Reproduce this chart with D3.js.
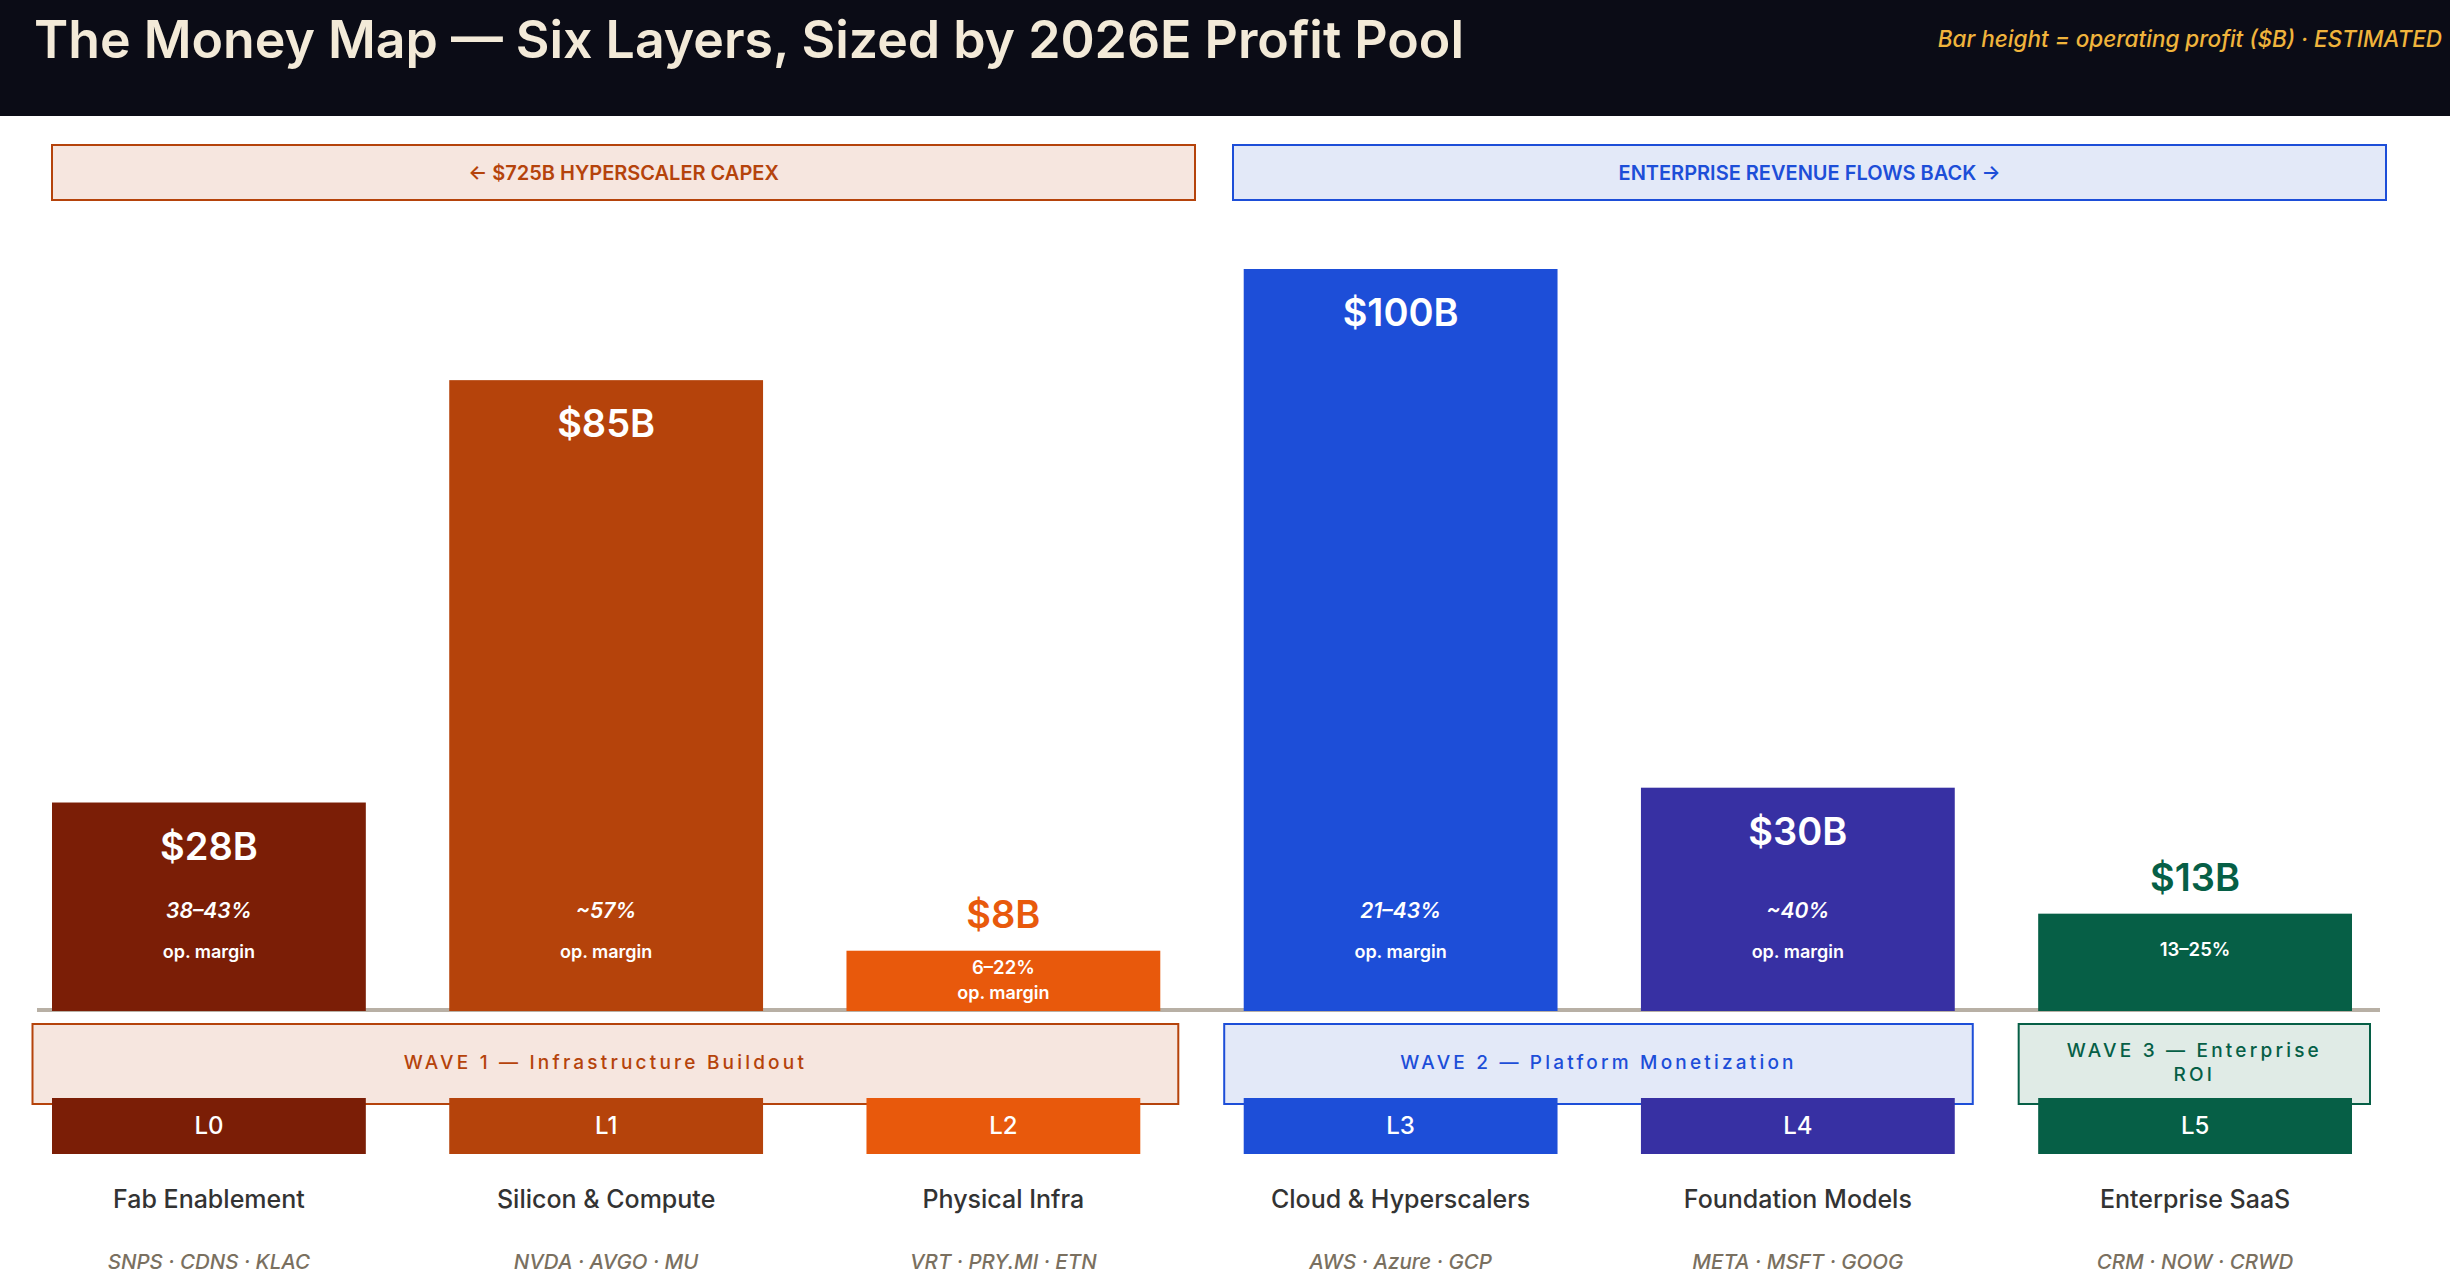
<!DOCTYPE html>
<html>
<head>
<meta charset="utf-8">
<script src="https://cdn.jsdelivr.net/npm/d3@7"></script>
<style>
  html, body { margin: 0; padding: 0; background: #ffffff; }
  svg { display: block; font-family: Inter, "Noto Sans", sans-serif; }
</style>
</head>
<body>
<svg id="chart" width="2450" height="1280"></svg>
<script>
// ---- data ----
const categories = ["L0", "L1", "L2", "L3", "L4", "L5"];
const layerNames = ["Fab Enablement", "Silicon & Compute", "Physical Infra", "Cloud & Hyperscalers", "Foundation Models", "Enterprise SaaS"];
const tickers = ["SNPS · CDNS · KLAC", "NVDA · AVGO · MU", "VRT · PRY.MI · ETN", "AWS · Azure · GCP", "META · MSFT · GOOG", "CRM · NOW · CRWD"];
const profitB = [28, 85, 8, 100, 30, 13];
const valueLabels = ["$28B", "$85B", "$8B", "$100B", "$30B", "$13B"];
const margins = ["38–43%", "~57%", "6–22%", "21–43%", "~40%", "13–25%"];
const marginNotes = ["op. margin", "op. margin", "op. margin", "op. margin", "op. margin", ""];
const waves = [
  { label: "WAVE 1 — Infrastructure Buildout", first: "L0", last: "L2" },
  { label: "WAVE 2 — Platform Monetization", first: "L3", last: "L4" },
  { label: "WAVE 3 — Enterprise ROI", first: "L5", last: "L5" }
];
const flowLabels = ["← $725B HYPERSCALER CAPEX", "ENTERPRISE REVENUE FLOWS BACK →"];
const titleText = "The Money Map — Six Layers, Sized by 2026E Profit Pool";
const subtitleText = "Bar height = operating profit ($B) · ESTIMATED";

// ---- styles ----
const layerColors = ["#7b1e06", "#b5430b", "#e8590c", "#1d4ed8", "#3730a3", "#065f46"];
const waveStroke = ["#b5430b", "#1d4ed8", "#065f46"];
const waveFill = ["#f6e6df", "#e3e9f8", "#e0ebe6"];

const svg = d3.select("#chart");
const W = 2450;

// header
svg.append("rect").attr("x", 0).attr("y", 0).attr("width", W).attr("height", 116).attr("fill", "#0b0c16");
svg.append("text").attr("x", 34).attr("y", 58)
  .attr("fill", "#f3ead8").attr("font-size", 52).attr("font-weight", 600)
  .attr("textLength", 1430).attr("lengthAdjust", "spacingAndGlyphs")
  .text(titleText);
svg.append("text").attr("x", 2442).attr("y", 47).attr("text-anchor", "end")
  .attr("fill", "#f0b43c").attr("font-size", 22.5).attr("font-style", "italic").attr("font-weight", 500)
  .text(subtitleText);

// scales
const x = d3.scaleBand().domain(categories).range([52, 2352]).paddingInner(0.21).paddingOuter(0);
const bw = x.bandwidth();
const y = d3.scaleLinear().domain([0, 100]).range([1010, 269]);
const base = y(0);

// flow boxes
const mid = (x("L2") + bw + x("L3")) / 2;
const flowBoxes = [
  { x0: x("L0"), x1: mid - 7 },
  { x0: mid + 31, x1: x("L5") + bw + 34 }
];
flowBoxes.forEach((b, k) => {
  svg.append("rect").attr("x", b.x0).attr("y", 145).attr("width", b.x1 - b.x0).attr("height", 55)
    .attr("fill", waveFill[k]).attr("stroke", waveStroke[k]).attr("stroke-width", 2);
  svg.append("text").attr("x", (b.x0 + b.x1) / 2).attr("y", 173).attr("dy", "0.35em")
    .attr("text-anchor", "middle").attr("fill", waveStroke[k])
    .attr("font-size", 20).attr("font-weight", 600)
    .text(flowLabels[k]);
});

// bars
const data = categories.map((c, i) => ({
  c, i, v: profitB[i], label: valueLabels[i], margin: margins[i], note: marginNotes[i],
  name: layerNames[i], tick: tickers[i], color: layerColors[i]
}));

// baseline
svg.append("line").attr("x1", 37).attr("x2", 2380).attr("y1", base).attr("y2", base)
  .attr("stroke", "#b8b0a5").attr("stroke-width", 4);

svg.selectAll("rect.bar").data(data).join("rect").attr("class", "bar")
  .attr("x", d => x(d.c)).attr("y", d => y(d.v))
  .attr("width", bw).attr("height", d => base - y(d.v) + 1)
  .attr("fill", d => d.color);

// labels
data.forEach(d => {
  const cx = x(d.c) + bw / 2;
  const top = y(d.v);
  const h = base - top;
  const tall = h > 150;
  if (tall) {
    svg.append("text").attr("x", cx).attr("y", top + 44).attr("dy", "0.35em")
      .attr("text-anchor", "middle").attr("fill", "#ffffff")
      .attr("font-size", 38).attr("font-weight", 600).text(d.label);
    svg.append("text").attr("x", cx).attr("y", base - 99).attr("dy", "0.35em")
      .attr("text-anchor", "middle").attr("fill", "#ffffff")
      .attr("font-size", 21).attr("font-weight", 600).attr("font-style", "italic").text(d.margin);
    svg.append("text").attr("x", cx).attr("y", base - 58).attr("dy", "0.35em")
      .attr("text-anchor", "middle").attr("fill", "#ffffff")
      .attr("font-size", 18).attr("font-weight", 600).text(d.note);
  } else {
    svg.append("text").attr("x", cx).attr("y", top - 36).attr("dy", "0.35em")
      .attr("text-anchor", "middle").attr("fill", d.color)
      .attr("font-size", 38).attr("font-weight", 600).text(d.label);
    const c = top + h / 2;
    svg.append("text").attr("x", cx).attr("y", c - 12.5).attr("dy", "0.35em")
      .attr("text-anchor", "middle").attr("fill", "#ffffff")
      .attr("font-size", 18.5).attr("font-weight", 600).text(d.margin);
    if (d.note) {
      svg.append("text").attr("x", cx).attr("y", c + 12.5).attr("dy", "0.35em")
        .attr("text-anchor", "middle").attr("fill", "#ffffff")
        .attr("font-size", 18).attr("font-weight", 600).text(d.note);
    }
  }
});

// wave boxes
const waveLetterSpacing = 3.2;
waves.forEach((w, k) => {
  const x0 = x(w.first) - 19.5;
  const x1 = x(w.last) + bw + 18;
  svg.append("rect").attr("x", x0).attr("y", 1024).attr("width", x1 - x0).attr("height", 80)
    .attr("fill", waveFill[k]).attr("stroke", waveStroke[k]).attr("stroke-width", 2);
  const t = svg.append("text").attr("text-anchor", "middle").attr("fill", waveStroke[k])
    .attr("font-size", 19).attr("font-weight", 500).attr("letter-spacing", waveLetterSpacing + "px");
  const words = w.label.split(" ");
  const maxW = (x1 - x0) - 70;
  const lines = [];
  let cur = [];
  const probe = svg.append("text").attr("font-size", 19).attr("font-weight", 500)
    .attr("letter-spacing", waveLetterSpacing + "px").attr("visibility", "hidden");
  const measure = s => { probe.text(s); return probe.node().getBBox().width; };
  words.forEach(word => {
    const test = cur.concat([word]).join(" ");
    if (measure(test) > maxW && cur.length) {
      lines.push(cur.join(" "));
      cur = [word];
    } else cur.push(word);
  });
  lines.push(cur.join(" "));
  probe.remove();
  const cy = 1062;
  const lh = 24;
  lines.forEach((ln, j) => {
    t.append("tspan").attr("x", (x0 + x1) / 2)
      .attr("y", cy + (j - (lines.length - 1) / 2) * lh).attr("dy", "0.35em").text(ln);
  });
});

// layer tags
data.forEach(d => {
  const inset = d.c === "L2" ? 20 : 0;
  svg.append("rect").attr("x", x(d.c) + inset).attr("y", 1098).attr("width", bw - 2 * inset).attr("height", 56)
    .attr("fill", d.color);
  svg.append("text").attr("x", x(d.c) + bw / 2).attr("y", 1126).attr("dy", "0.35em")
    .attr("text-anchor", "middle").attr("fill", "#ffffff")
    .attr("font-size", 24).attr("font-weight", 500).text(d.c);
  svg.append("text").attr("x", x(d.c) + bw / 2).attr("y", 1199).attr("dy", "0.35em")
    .attr("text-anchor", "middle").attr("fill", "#333333")
    .attr("font-size", 25).attr("font-weight", 500).text(d.name);
  svg.append("text").attr("x", x(d.c) + bw / 2).attr("y", 1262).attr("dy", "0.35em")
    .attr("text-anchor", "middle").attr("fill", "#7a7060")
    .attr("font-size", 20.5).attr("font-weight", 500).attr("font-style", "italic").text(d.tick);
});
</script>
</body>
</html>
